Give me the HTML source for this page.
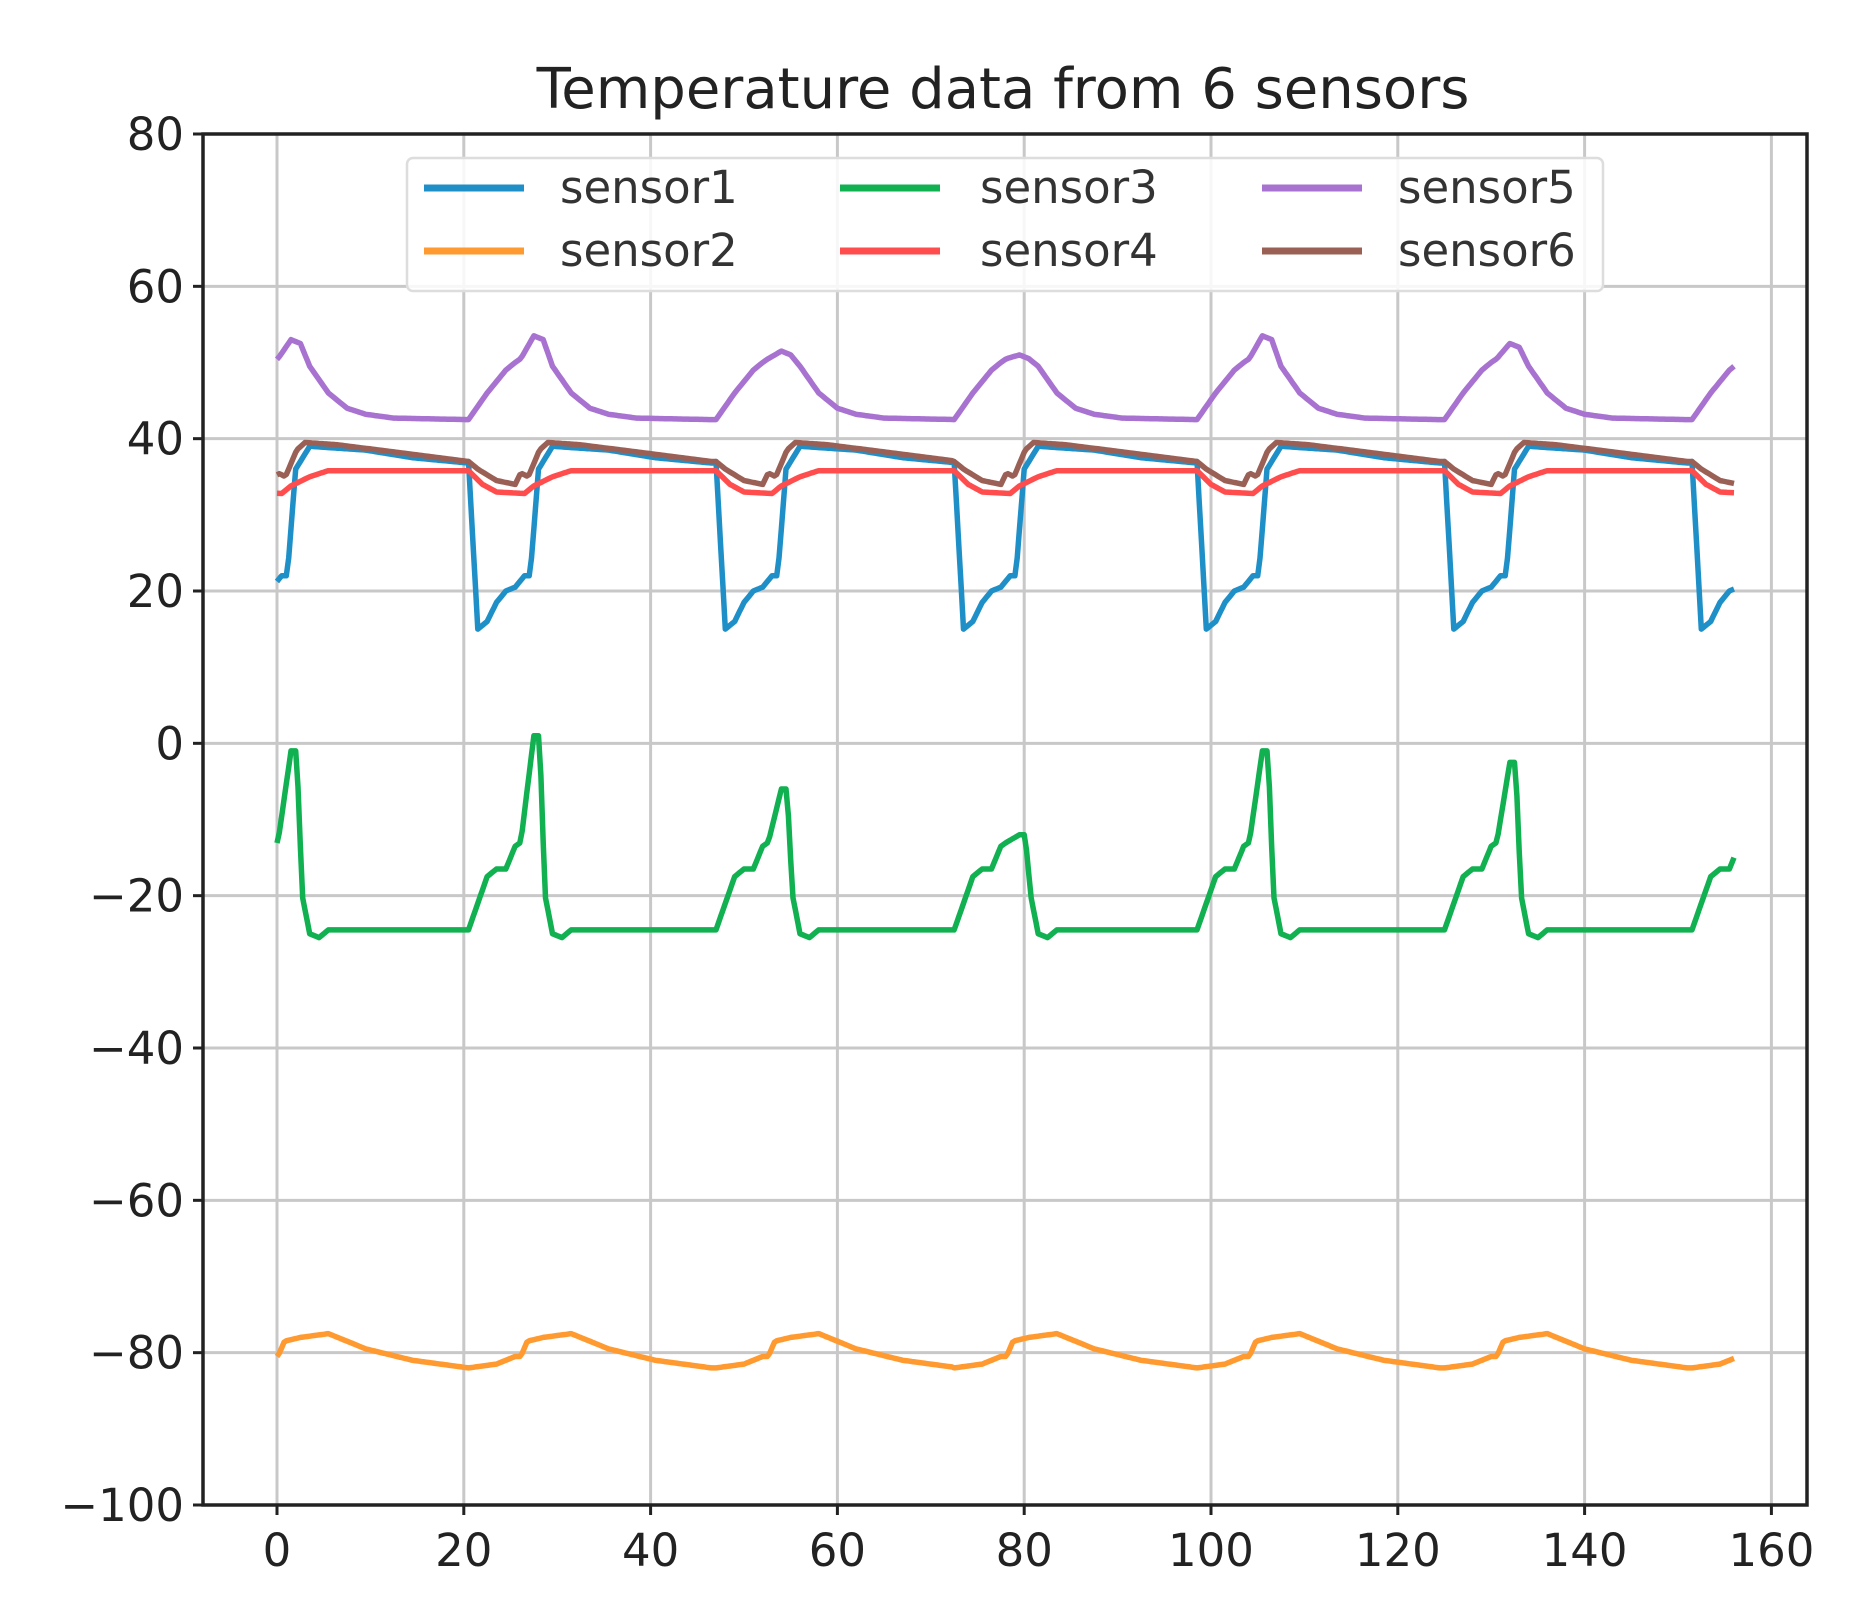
<!DOCTYPE html>
<html><head><meta charset="utf-8"><style>
html,body{margin:0;padding:0;background:#fff;}
svg{display:block;font-family:"DejaVu Sans","Liberation Sans",sans-serif;}
</style></head><body>
<svg id="s" width="1860" height="1620" viewBox="0 0 1860 1620" xmlns="http://www.w3.org/2000/svg">
<rect width="1860" height="1620" fill="#fff"/>
<g id="grid" stroke="#c8c8c8" stroke-width="3"></g>
<g id="series" fill="none" stroke-width="5.5" stroke-linejoin="round"></g>
<rect x="203" y="134" width="1604" height="1371" fill="none" stroke="#222" stroke-width="3.5"/>
<g id="ticks" fill="#222" font-size="45"></g>
<text x="1003" y="108" text-anchor="middle" font-size="56" fill="#222">Temperature data from 6 sensors</text>
<g font-size="45" fill="#333">
<rect x="407" y="158" width="1196" height="133" rx="6" fill="#fff" fill-opacity="0.85" stroke="#ddd" stroke-width="2.5"/>
<line x1="424" y1="188" x2="524" y2="188" stroke="#1f8fc8" stroke-width="7"/><text x="560" y="203">sensor1</text>
<line x1="424" y1="251" x2="524" y2="251" stroke="#ff9a30" stroke-width="7"/><text x="560" y="266">sensor2</text>
<line x1="840" y1="188" x2="940" y2="188" stroke="#11b050" stroke-width="7"/><text x="980" y="203">sensor3</text>
<line x1="840" y1="251" x2="940" y2="251" stroke="#ff4d4d" stroke-width="7"/><text x="980" y="266">sensor4</text>
<line x1="1262" y1="188" x2="1362" y2="188" stroke="#a872d0" stroke-width="7"/><text x="1398" y="203">sensor5</text>
<line x1="1262" y1="251" x2="1362" y2="251" stroke="#9a6055" stroke-width="7"/><text x="1398" y="266">sensor6</text>
</g>
</svg>
<script>
var X0=277,XU=9.34,YT=134,YU=1371/180;
function px(x){return X0+x*XU}function py(v){return YT+(80-v)*YU}
var ns="http://www.w3.org/2000/svg";
function el(p,t,a){var e=document.createElementNS(ns,t);for(var k in a)e.setAttribute(k,a[k]);p.appendChild(e);return e}
var G=document.getElementById('grid'),T=document.getElementById('ticks'),S=document.getElementById('series');
for(var x=0;x<=160;x+=20){el(G,'line',{x1:px(x),x2:px(x),y1:134,y2:1505});el(G,'line',{x1:px(x),x2:px(x),y1:1505,y2:1515,stroke:'#222'});var t=el(T,'text',{x:px(x),y:1566,'text-anchor':'middle'});t.textContent=x;}
for(var v=-100;v<=80;v+=20){el(G,'line',{x1:203,x2:1807,y1:py(v),y2:py(v)});el(G,'line',{x1:193,x2:203,y1:py(v),y2:py(v),stroke:'#222'});var t=el(T,'text',{x:184,y:py(v)+16,'text-anchor':'end'});t.textContent=(v<0?'\u2212'+(-v):v);}
var D=[-5.5,20.5,47,72.5,98.5,125,151.5];
var pk3=[-1,1,-6,-12,-1,-2.5,-12];
var pk5=[53,53.5,51.5,51,53.5,52.5,52];
function cyc(x){var k=0;for(var i=0;i<D.length;i++)if(x>=D[i])k=i;return {k:k,t:x-D[k]};}
function interp(pts,t){for(var i=1;i<pts.length;i++)if(t<=pts[i][0]){var a=pts[i-1],b=pts[i];return a[1]+(b[1]-a[1])*(t-a[0])/(b[0]-a[0]);}return pts[pts.length-1][1];}
function s1(x){var c=cyc(x);return interp([[0,37],[1,15],[2,16],[3,18.5],[4,20],[5,20.5],[6,22],[6.6,22],[7.5,36],[9,39],[15,38.5],[20,37.5],[26,36.8]],c.t);}
function s2(x){var c=cyc(x);return interp([[0,-82],[3,-81.5],[5,-80.5],[5.6,-80.5],[6.3,-78.5],[8,-78],[11,-77.5],[15,-79.5],[20,-81],[26,-82]],c.t);}
function s3(x){var c=cyc(x),p=pk3[c.k];var base=-24.5;return interp([[0,base],[1,-21],[2,-17.5],[3,-16.5],[4,-16.5],[5,-13.5],[5.6,-13],[7,p],[7.6,p],[8.2,-20],[9,-25],[10,-25.5],[11,-24.5],[26,base]],c.t);}
function s4(x){var c=cyc(x);return interp([[0,35.8],[1.5,34],[3,33],[6,32.8],[7,33.8],[9,35],[11,35.8],[26,35.8]],c.t);}
function s5(x){var c=cyc(x),p=pk5[c.k];return interp([[0,42.5],[2,46],[4,49],[5,50],[5.6,50.5],[7,p],[8,p-0.5],[9,49.5],[11,46],[13,44],[15,43.2],[18,42.7],[26,42.5]],c.t);}
function s6(x){var c=cyc(x);return interp([[0,37],[1,36],[3,34.5],[5,34],[5.6,35.5],[6.4,35],[7.6,38.5],[8.5,39.5],[12,39.2],[26,37]],c.t);}
function line(f,col){var d='';for(var x=0;x<=156.01;x+=0.25){d+=(x?'L':'M')+px(x).toFixed(1)+','+py(f(x)).toFixed(1);}el(S,'path',{d:d,stroke:col});}
line(s1,'#1f8fc8');line(s2,'#ff9a30');line(s3,'#11b050');line(s4,'#ff4d4d');line(s5,'#a872d0');line(s6,'#9a6055');
</script>
</body></html>
